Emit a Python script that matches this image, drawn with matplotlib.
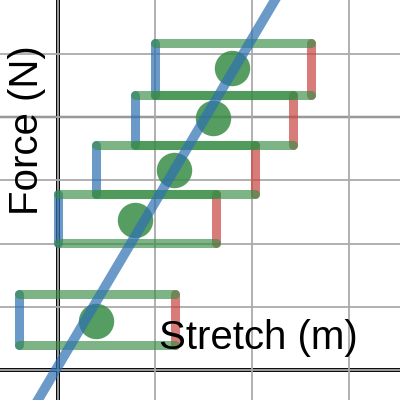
import matplotlib
matplotlib.use("Agg")
import matplotlib.pyplot as plt
import numpy as np

# boxes: left, right, bottom, top (graph units)
box_left = [-0.40, 0.00, 0.39, 0.79, 1.00]
box_right = [1.21, 1.63, 2.03, 2.42, 2.61]
box_bottom = [0.40, 2.01, 2.79, 3.56, 4.35]
box_top = [1.20, 2.79, 3.56, 4.35, 5.17]
dot_x = [0.39, 0.79, 1.20, 1.60, 1.79]
dot_y = [0.78, 2.37, 3.17, 3.99, 4.78]
fit_x = [-0.7, 2.6]
slope, icpt = 2.59, 0.06

green, blue, red = "#388c46", "#2d70b3", "#c74440"
plt.rcParams['font.family'] = ['Liberation Sans', 'DejaVu Sans']

fig = plt.figure(figsize=(4, 4), dpi=100)
ax = fig.add_axes([0, 0, 1, 1])
ax.set_xlim(-0.598, 3.526)
ax.set_ylim(-0.475, 5.854)
ax.set_xticks(np.arange(0, 4))
ax.set_yticks(np.arange(0, 6))
ax.grid(color="#aaaaaa", lw=1.3, zorder=0)
for s in ax.spines.values():
    s.set_visible(False)
ax.tick_params(length=0, labelbottom=False, labelleft=False)
ax.axhline(0, color="k", lw=2.8, zorder=1)
ax.axhline(4, color="k", lw=1.6, zorder=1)
ax.axvline(0, color="k", lw=2.8, zorder=1)

for l, r, b, t in zip(box_left, box_right, box_bottom, box_top):
    ax.plot([l, l], [b, t], color=blue, lw=6.5, alpha=0.7, solid_capstyle="round", zorder=2)
    ax.plot([r, r], [b, t], color=red, lw=6.5, alpha=0.7, solid_capstyle="round", zorder=2)
    ax.plot([l, r], [b, b], color=green, lw=6.5, alpha=0.65, solid_capstyle="round", zorder=3)
    ax.plot([l, r], [t, t], color=green, lw=6.5, alpha=0.65, solid_capstyle="round", zorder=3)

ax.scatter(dot_x, dot_y, s=650, color=green, alpha=0.85, lw=0, zorder=4)
fx = np.array(fit_x)
ax.plot(fx, slope * fx + icpt, color=blue, lw=7, alpha=0.7, zorder=5)

ax.text(258 / 400, 62 / 400, "Stretch (m)", transform=ax.transAxes, fontsize=29,
        ha="center", va="center", zorder=6)
ax.text(27 / 400, 270 / 400, "Force (N)", transform=ax.transAxes, fontsize=29,
        rotation=90, ha="center", va="center", zorder=6)

fig.savefig("out.png", dpi=100)
